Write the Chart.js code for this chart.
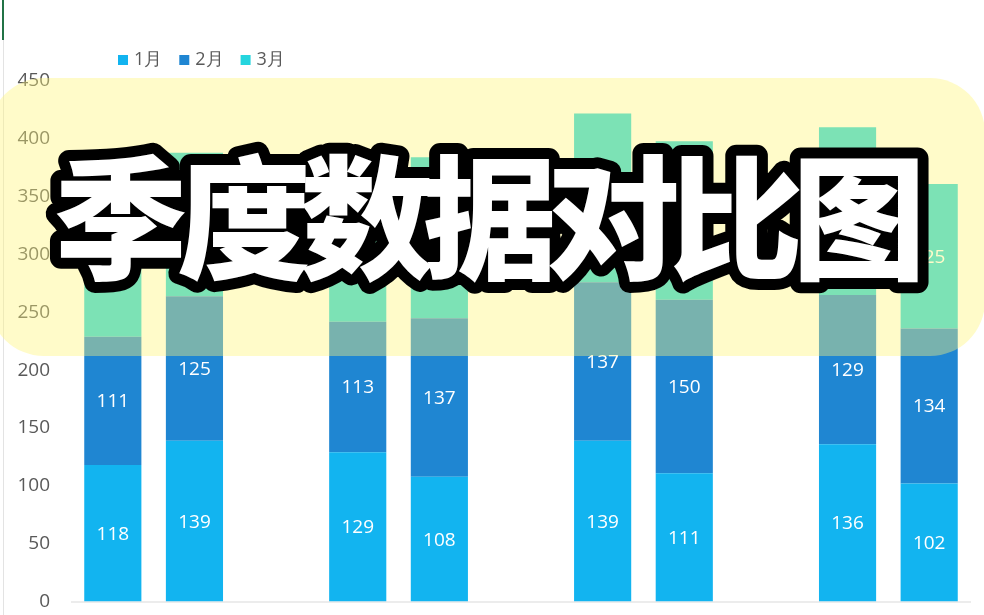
<!DOCTYPE html>
<html>
<head>
<meta charset="utf-8">
<script src="https://cdn.jsdelivr.net/npm/chart.js@4.4.1/dist/chart.umd.min.js"></script>
<style>
  html, body { margin: 0; padding: 0; background: #fff; overflow: hidden; }
  #wrap { position: relative; width: 984px; height: 635px; }
</style>
</head>
<body>
<div id="wrap"><canvas id="chart"></canvas></div>
<script>
// categories (blank ones are the gaps between pairs)
const categories = ['店1', '店2', '', '店3', '店4', '', '店5', '店6', '', '店7', '店8'];
const seriesNames = ['1月', '2月', '3月'];
const seriesColors = ['#12b4f0', '#1f86d2', '#25d5de'];
const jan = [118, 139, null, 129, 108, null, 139, 111, null, 136, 102];
const feb = [111, 125, null, 113, 137, null, 137, 150, null, 129, 134];
const mar = [155, 124, null, 128, 139, null, 146, 137, null, 145, 125];
const yTicks = [0, 50, 100, 150, 200, 250, 300, 350, 400, 450];
const title = '季度数据对比图';

const numFont = '"Open Sans", "Noto Sans", sans-serif';

// white value labels in the middle of every segment
const valueLabels = {
    id: 'valueLabels',
    afterDatasetsDraw(chart) {
        const ctx = chart.ctx;
        ctx.save();
        ctx.fillStyle = '#fff';
        ctx.font = '19px ' + numFont;
        ctx.textAlign = 'center';
        ctx.textBaseline = 'middle';
        chart.data.datasets.forEach((ds, i) => {
            chart.getDatasetMeta(i).data.forEach((bar, j) => {
                const v = ds.data[j];
                if (v == null) return;
                ctx.fillText(v, bar.x, (bar.y + bar.base) / 2 + 1);
            });
        });
        ctx.restore();
    }
};

// legend drawn by hand so it can sit where the original one does
const sideLegend = {
    id: 'sideLegend',
    afterDraw(chart) {
        const ctx = chart.ctx;
        ctx.save();
        ctx.font = '18px ' + numFont;
        ctx.textBaseline = 'middle';
        let x = 118;
        chart.data.datasets.forEach(ds => {
            ctx.fillStyle = ds.backgroundColor;
            ctx.fillRect(x, 55, 10, 10);
            ctx.fillStyle = '#595959';
            ctx.fillText(ds.label, x + 16, 60);
            x += 16 + ctx.measureText(ds.label).width + 17;
        });
        ctx.restore();
    }
};

// yellow banner with the big outlined title on top of the chart
const banner = {
    id: 'banner',
    afterDraw(chart) {
        const ctx = chart.ctx;
        ctx.save();
        // sheet edge at the far left
        ctx.fillStyle = '#e3e3e3';
        ctx.fillRect(3, 0, 1, 635);
        ctx.fillStyle = '#217346';
        ctx.fillRect(2, 0, 2, 40);

        ctx.fillStyle = 'rgba(255, 246, 120, 0.4)';
        ctx.beginPath();
        ctx.roundRect(-11, 78, 996, 278, 55);
        ctx.fill();

        ctx.font = '900 134px "Noto Sans CJK SC", sans-serif';
        ctx.textAlign = 'center';
        ctx.textBaseline = 'middle';
        ctx.lineJoin = 'round';
        ctx.lineWidth = 22;
        ctx.strokeStyle = '#000';
        ctx.fillStyle = '#fff';
        const step = 123, cx = 490, cy = 218;
        const chars = [...title];
        chars.forEach((c, i) => {
            const x = cx + (i - (chars.length - 1) / 2) * step;
            ctx.strokeText(c, x, cy);
        });
        chars.forEach((c, i) => {
            const x = cx + (i - (chars.length - 1) / 2) * step;
            ctx.fillText(c, x, cy);
        });
        ctx.restore();
    }
};

const datasets = [jan, feb, mar].map((d, i) => ({
    label: seriesNames[i],
    data: d,
    backgroundColor: seriesColors[i],
    borderWidth: 0,
    barPercentage: 0.7,
    categoryPercentage: 1
}));

new Chart(document.getElementById('chart'), {
    type: 'bar',
    data: { labels: categories, datasets },
    options: {
        responsive: true,
        maintainAspectRatio: false,
        animation: false,
        layout: { padding: { top: 81, right: 14, bottom: 0, left: 0 } },
        plugins: {
            legend: { display: false },
            tooltip: { enabled: false }
        },
        scales: {
            x: {
                stacked: true,
                grid: { display: false },
                border: { display: true, color: '#ececec', width: 2 },
                ticks: { display: false },
                afterFit(scale) { scale.height = 15; }
            },
            y: {
                stacked: true,
                min: 0,
                max: 450,
                afterBuildTicks(scale) { scale.ticks = yTicks.map(v => ({ value: v })); },
                grid: { display: false, drawTicks: false },
                border: { display: false },
                ticks: {
                    color: '#595959',
                    font: { family: numFont, size: 19 },
                    padding: 22
                },
                afterFit(scale) { scale.width = 72; }
            }
        }
    },
    plugins: [valueLabels, sideLegend, banner]
});
</script>
</body>
</html>
